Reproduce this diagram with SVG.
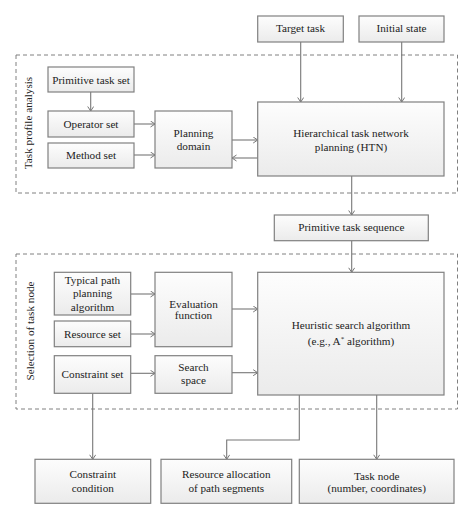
<svg xmlns="http://www.w3.org/2000/svg" width="474" height="520" viewBox="0 0 474 520">
<defs>
<linearGradient id="g" x1="0" y1="0" x2="0" y2="1">
<stop offset="0" stop-color="#fdfdfd"/>
<stop offset="1" stop-color="#ebebeb"/>
</linearGradient>
<marker id="a" markerWidth="8" markerHeight="8" refX="5" refY="3.5" orient="auto" markerUnits="userSpaceOnUse">
<path d="M0.5,0.5 L5,3.5 L0.5,6.5" fill="none" stroke="#777" stroke-width="1"/>
</marker>
<style>
.b{fill:url(#g);stroke:#808080;stroke-width:1.2}
.d{fill:none;stroke:#808080;stroke-width:1;stroke-dasharray:4,3}
.t{font-family:"Liberation Serif","Times New Roman",serif;font-size:11.2px;fill:#222;text-anchor:middle}
.c{fill:none;stroke:#777;stroke-width:1.1;marker-end:url(#a)}
</style>
</defs>
<rect width="474" height="520" fill="#fff"/>
<g id="group-task-profile">
<rect class="d" x="16" y="55" width="441.5" height="138"/>
<text class="t" transform="translate(31.5,123) rotate(-90)">Task profile analysis</text>
</g>
<g id="group-selection">
<rect class="d" x="16" y="254" width="441.5" height="155"/>
<text class="t" transform="translate(33.5,331) rotate(-90)">Selection of task node</text>
</g>
<g id="connectors">
<line class="c" x1="300.7" y1="42" x2="300.7" y2="102"/>
<line class="c" x1="401.7" y1="42" x2="401.7" y2="102"/>
<line class="c" x1="90.7" y1="92" x2="90.7" y2="111"/>
<line class="c" x1="134" y1="124" x2="155" y2="124"/>
<line class="c" x1="134" y1="155" x2="155" y2="155"/>
<line class="c" x1="232" y1="140" x2="257.7" y2="140"/>
<line class="c" x1="257.7" y1="158" x2="232" y2="158"/>
<line class="c" x1="351.7" y1="176" x2="351.7" y2="215"/>
<line class="c" x1="351.7" y1="240.7" x2="351.7" y2="272.3"/>
<line class="c" x1="130.7" y1="294" x2="155" y2="294"/>
<line class="c" x1="130.7" y1="334" x2="155" y2="334"/>
<line class="c" x1="130.7" y1="373.3" x2="155" y2="373.3"/>
<line class="c" x1="232" y1="309" x2="257.7" y2="309"/>
<line class="c" x1="232" y1="372.7" x2="257.7" y2="372.7"/>
<line class="c" x1="92.7" y1="393.3" x2="92.7" y2="459.3"/>
<polyline class="c" points="299.3,395 299.3,440 226.7,440 226.7,459.3"/>
<line class="c" x1="376.7" y1="395" x2="376.7" y2="459.3"/>
</g>
<g id="target-task"><rect class="b" x="257.7" y="16" width="85.6" height="26"/><text class="t" x="300.5" y="31.5">Target task</text></g>
<g id="initial-state"><rect class="b" x="359" y="16" width="85" height="26"/><text class="t" x="401.5" y="31.5">Initial state</text></g>
<g id="primitive-task-set"><rect class="b" x="48" y="67" width="86" height="25"/><text class="t" x="91" y="83.5">Primitive task set</text></g>
<g id="operator-set"><rect class="b" x="48" y="111" width="86" height="26"/><text class="t" x="91" y="128">Operator set</text></g>
<g id="method-set"><rect class="b" x="48" y="143" width="86" height="25"/><text class="t" x="91" y="159">Method set</text></g>
<g id="planning-domain"><rect class="b" x="155" y="111" width="77" height="57"/><text class="t" x="193.5" y="137">Planning</text><text class="t" x="193.5" y="149.5">domain</text></g>
<g id="htn"><rect class="b" x="257.7" y="102" width="186.3" height="74"/><text class="t" x="351" y="136.5">Hierarchical task network</text><text class="t" x="351" y="150.5">planning (HTN)</text></g>
<g id="primitive-task-sequence"><rect class="b" x="274.3" y="215" width="154" height="25.7"/><text class="t" x="351.3" y="231">Primitive task sequence</text></g>
<g id="typical-path"><rect class="b" x="54.3" y="272.3" width="76.4" height="42.7"/><text class="t" x="92.5" y="283.5">Typical path</text><text class="t" x="92.5" y="297">planning</text><text class="t" x="92.5" y="310.5">algorithm</text></g>
<g id="resource-set"><rect class="b" x="54.3" y="321" width="76.4" height="25.7"/><text class="t" x="92.5" y="338">Resource set</text></g>
<g id="constraint-set"><rect class="b" x="54.3" y="355.7" width="76.4" height="37.6"/><text class="t" x="92.5" y="378">Constraint set</text></g>
<g id="evaluation-function"><rect class="b" x="155" y="272.3" width="77" height="74.4"/><text class="t" x="193.5" y="307.5">Evaluation</text><text class="t" x="193.5" y="319">function</text></g>
<g id="search-space"><rect class="b" x="155" y="355.7" width="77" height="37.6"/><text class="t" x="193.5" y="371">Search</text><text class="t" x="193.5" y="383.5">space</text></g>
<g id="heuristic"><rect class="b" x="257.7" y="272.3" width="186.3" height="122.7"/><text class="t" x="351" y="329">Heuristic search algorithm</text><text class="t" x="351" y="345">(e.g., A<tspan dy="-4" font-size="7">*</tspan><tspan dy="4"> algorithm)</tspan></text></g>
<g id="constraint-condition"><rect class="b" x="35" y="459.3" width="115.7" height="44"/><text class="t" x="92.8" y="478">Constraint</text><text class="t" x="92.8" y="491.5">condition</text></g>
<g id="resource-allocation"><rect class="b" x="161" y="459.3" width="130.7" height="44"/><text class="t" x="226.3" y="478">Resource allocation</text><text class="t" x="226.3" y="491.5">of path segments</text></g>
<g id="task-node"><rect class="b" x="299.3" y="459.3" width="154.7" height="44"/><text class="t" x="376.7" y="479.5">Task node</text><text class="t" x="376.7" y="491.5">(number, coordinates)</text></g>
</svg>
